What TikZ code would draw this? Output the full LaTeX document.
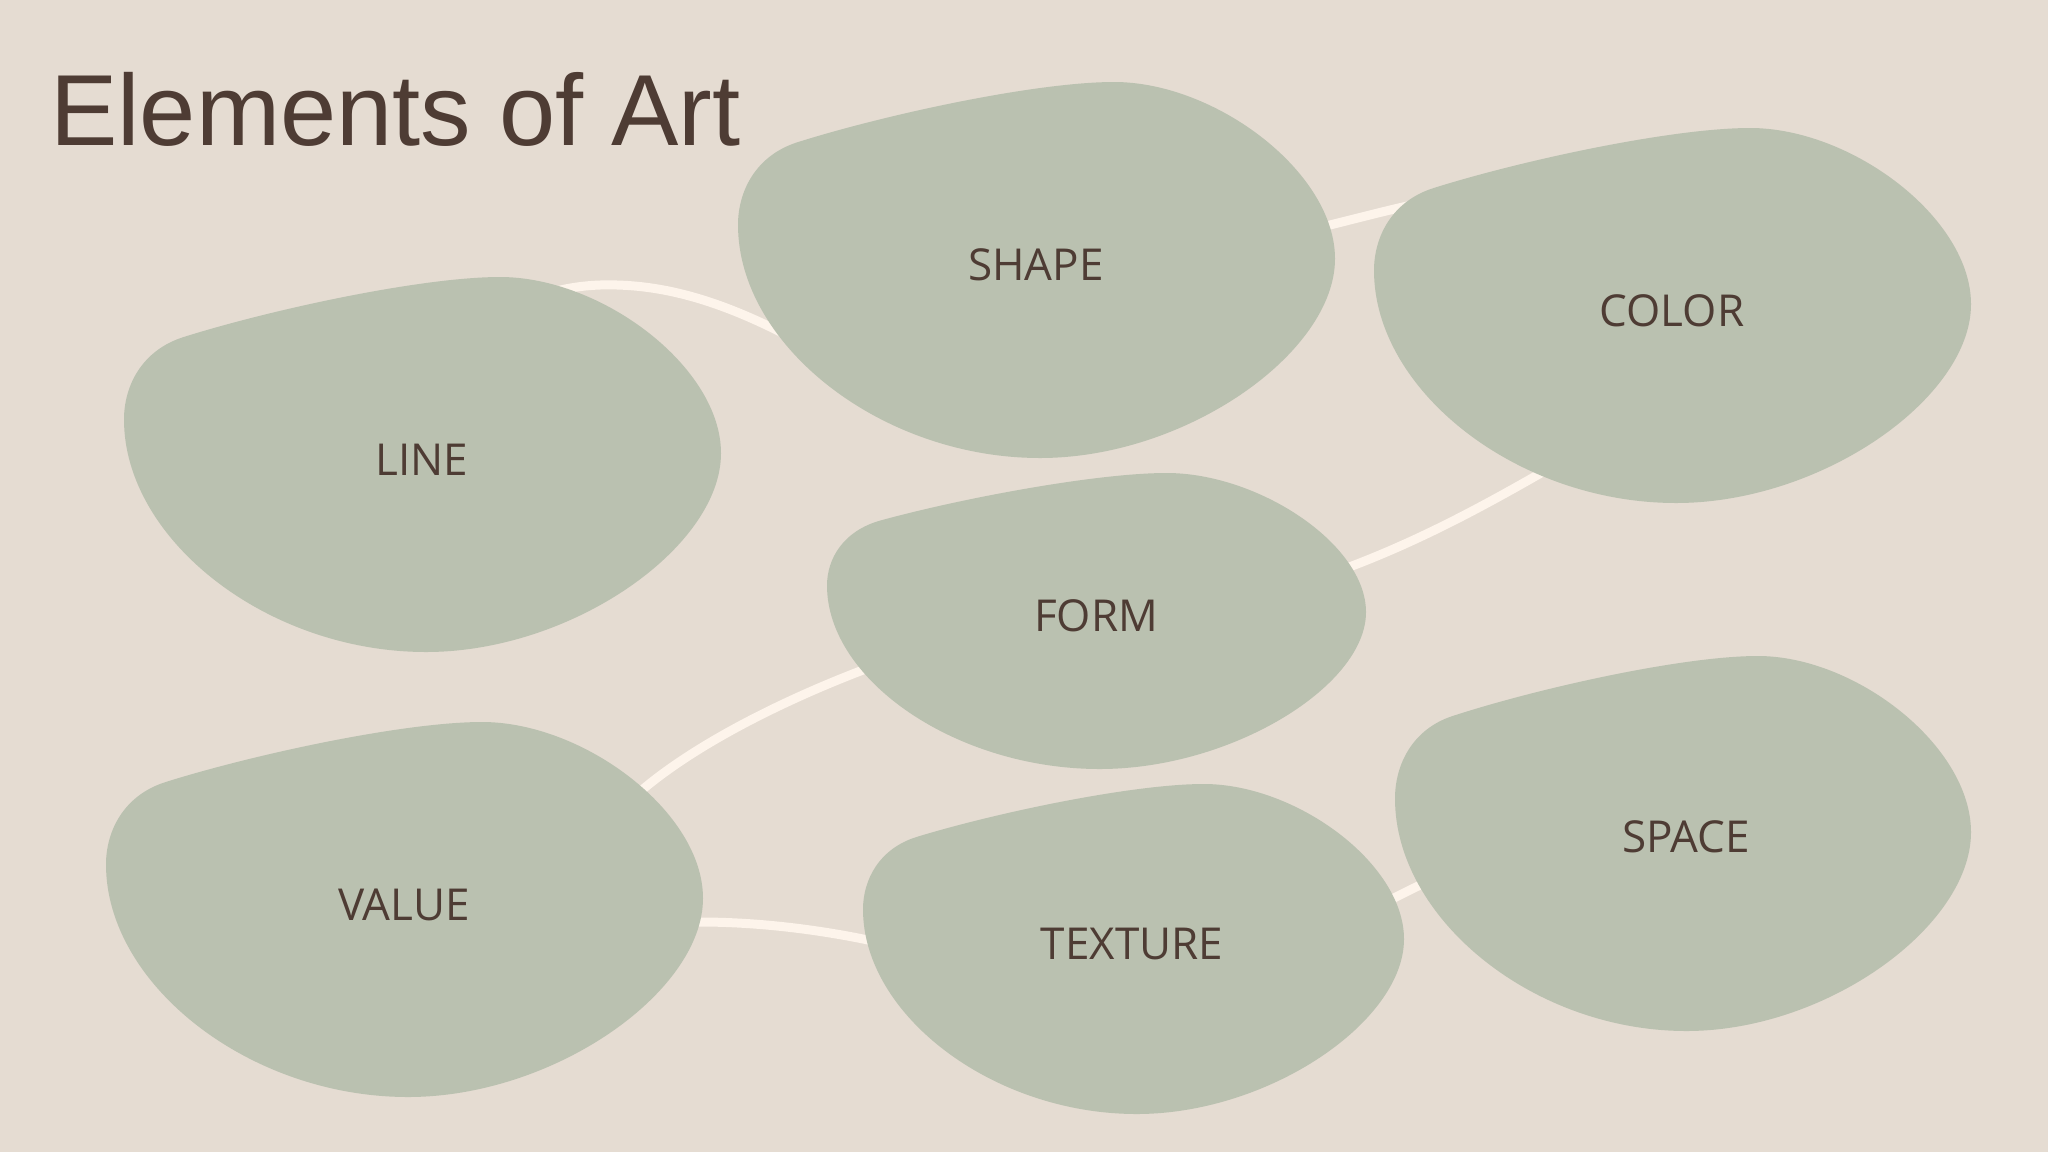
\documentclass[tikz,border=0pt]{standalone}
\usepackage{fontspec}
\setmainfont{Liberation Sans}
\newfontfamily\labelfont{Open Sans}
\definecolor{bgc}{HTML}{E5DCD2}
\definecolor{blobc}{HTML}{BAC1B0}
\definecolor{txtc}{HTML}{4E3C34}
\definecolor{linec}{HTML}{FDF4EB}
\pgfdeclarelayer{bgl}
\pgfdeclarelayer{lines}
\pgfdeclarelayer{blobs}
\pgfsetlayers{bgl,lines,blobs,main}
\newcommand\myblob[4]{%
  \fill[blobc, shift={(#1,#2)}, xscale=#3, yscale=#4]
    (0.63,0) .. controls (0.8,0) and (1,0.24) .. (1,0.47)
    .. controls (1,0.72) and (0.75,1) .. (0.506,1)
    .. controls (0.24,1) and (0,0.7) .. (0,0.38)
    .. controls (0,0.29) and (0.03,0.195) .. (0.1,0.16)
    .. controls (0.25,0.085) and (0.5,0) .. (0.63,0) -- cycle;}
\begin{document}
\begin{tikzpicture}[x=1pt,y=-1pt,
  conn/.style={draw=linec, line width=9pt},
  lbl/.style={text=txtc, font=\labelfont\fontsize{44}{50}\selectfont, inner sep=0pt},
  ttl/.style={text=txtc, font=\fontsize{101}{120}\selectfont, inner sep=0pt, anchor=base west}]
\begin{pgfonlayer}{bgl}
  \fill[bgc] (0,0) rectangle (2048,1152);
\end{pgfonlayer}
\useasboundingbox (0,0) rectangle (2048,1152);

\node[ttl] (title) at (50,145) {Elements of Art};

\node[lbl] (nline) at (422,460) {LINE};
\node[lbl] (nshape) at (1036,265) {SHAPE};
\node[lbl] (ncolor) at (1672,311) {COLOR};
\node[lbl] (nform) at (1096,616) {FORM};
\node[lbl] (nvalue) at (404,905) {VALUE};
\node[lbl] (ntexture) at (1132,944) {TEXTURE};
\node[lbl] (nspace) at (1686,837) {SPACE};

\begin{pgfonlayer}{blobs}
  \myblob{124}{277}{597}{375}
  \myblob{738}{82}{597}{376}
  \myblob{1374}{128}{597}{375}
  \myblob{827}{473}{539}{296}
  \myblob{106}{722}{597}{375}
  \myblob{863}{784}{541}{330}
  \myblob{1395}{656}{576}{375}
\end{pgfonlayer}

\begin{pgfonlayer}{lines}
  \draw[conn] (nline) .. controls (450,330) and (520,288) .. (600,285)
     .. controls (670,283) and (740,305) .. (840,365)
     .. controls (890,395) and (980,330) .. (nshape);
  \draw[conn] (nshape) .. controls (1200,265) and (1270,240) .. (1330,225)
     .. controls (1370,215) and (1400,207) .. (1440,199)
     .. controls (1520,185) and (1600,250) .. (ncolor);
  \draw[conn] (ncolor) .. controls (1620,420) and (1580,450) .. (1541,473)
     .. controls (1480,508) and (1420,540) .. (1352,566)
     .. controls (1300,586) and (1200,620) .. (nform);
  \draw[conn] (nform) .. controls (1000,640) and (920,648) .. (863,670)
     .. controls (800,694) and (710,735) .. (648,785)
     .. controls (600,825) and (500,880) .. (nvalue);
  \draw[conn] (nvalue) .. controls (550,915) and (640,922) .. (700,922)
     .. controls (760,922) and (820,930) .. (868,940)
     .. controls (950,957) and (1050,950) .. (ntexture);
  \draw[conn] (ntexture) .. controls (1250,960) and (1340,925) .. (1396,897)
     -- (1414,888)
     .. controls (1470,860) and (1600,850) .. (nspace);
\end{pgfonlayer}
\end{tikzpicture}
\end{document}
